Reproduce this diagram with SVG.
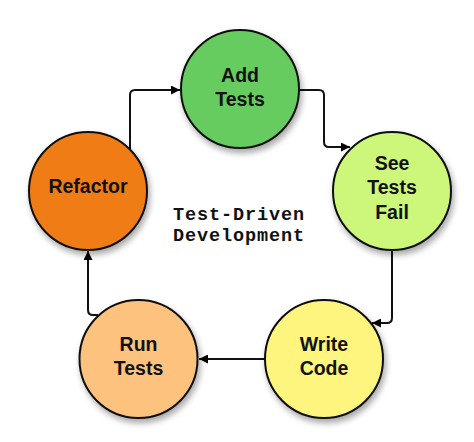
<svg xmlns="http://www.w3.org/2000/svg" width="474" height="442" viewBox="0 0 474 442">
<defs>
<marker id="arr" viewBox="0 0 10 10" refX="10" refY="5" markerWidth="9" markerHeight="9" markerUnits="userSpaceOnUse" orient="auto">
<path d="M0,0 L10,5 L0,10 z" fill="#000"/>
</marker>
<filter id="sh" x="-30%" y="-30%" width="160%" height="160%">
<feGaussianBlur in="SourceAlpha" stdDeviation="3"/>
<feOffset dx="2" dy="4" result="b"/>
<feComponentTransfer><feFuncA type="linear" slope="0.35"/></feComponentTransfer>
<feMerge><feMergeNode/><feMergeNode in="SourceGraphic"/></feMerge>
</filter>
<style>
.n{stroke:#111;stroke-width:2;filter:url(#sh)}
.t{font-family:"Liberation Sans",Arial,sans-serif;font-weight:bold;font-size:19.5px;fill:#111;text-anchor:middle}
.c{fill:none;stroke:#111;stroke-width:2;marker-end:url(#arr)}
.m{font-family:"Liberation Mono","DejaVu Sans Mono",monospace;font-weight:bold;font-size:18.5px;letter-spacing:0.9px;fill:#111}
</style>
</defs>
<rect width="474" height="442" fill="#fff"/>
<g id="connectors">
<path class="c" d="M130,150 L130,95 Q130,90 135,90 L180,90"/>
<path class="c" d="M299,90 L319,90 Q324,90 324,95 L324,142 Q324,147 329,147 L350,147"/>
<path class="c" d="M392,250 L392,318 Q392,323 387,323 L372,323"/>
<path class="c" d="M265,359 L199,359"/>
<path class="c" d="M98,315 L93,315 Q88,315 88,310 L88,251"/>
</g>
<g id="add-tests">
<circle class="n" cx="240" cy="89" r="59" fill="#66cc5f"/>
<text class="t" x="240" y="82">Add</text>
<text class="t" x="240" y="106">Tests</text>
</g>
<g id="see-tests-fail">
<circle class="n" cx="392" cy="191" r="59" fill="#ccf77a"/>
<text class="t" x="392" y="170">See</text>
<text class="t" x="392" y="194">Tests</text>
<text class="t" x="392" y="219">Fail</text>
</g>
<g id="write-code">
<circle class="n" cx="324" cy="359" r="59" fill="#fdf57e"/>
<text class="t" x="324" y="351">Write</text>
<text class="t" x="324" y="375">Code</text>
</g>
<g id="run-tests">
<circle class="n" cx="138.5" cy="359" r="59" fill="#fdc27e"/>
<text class="t" x="138.5" y="351">Run</text>
<text class="t" x="138.5" y="375">Tests</text>
</g>
<g id="refactor">
<circle class="n" cx="88" cy="191" r="59" fill="#f07b13"/>
<text class="t" x="88" y="193">Refactor</text>
</g>
<g id="title">
<text class="m" x="173" y="220">Test-Driven</text>
<text class="m" x="173" y="241">Development</text>
</g>
</svg>
